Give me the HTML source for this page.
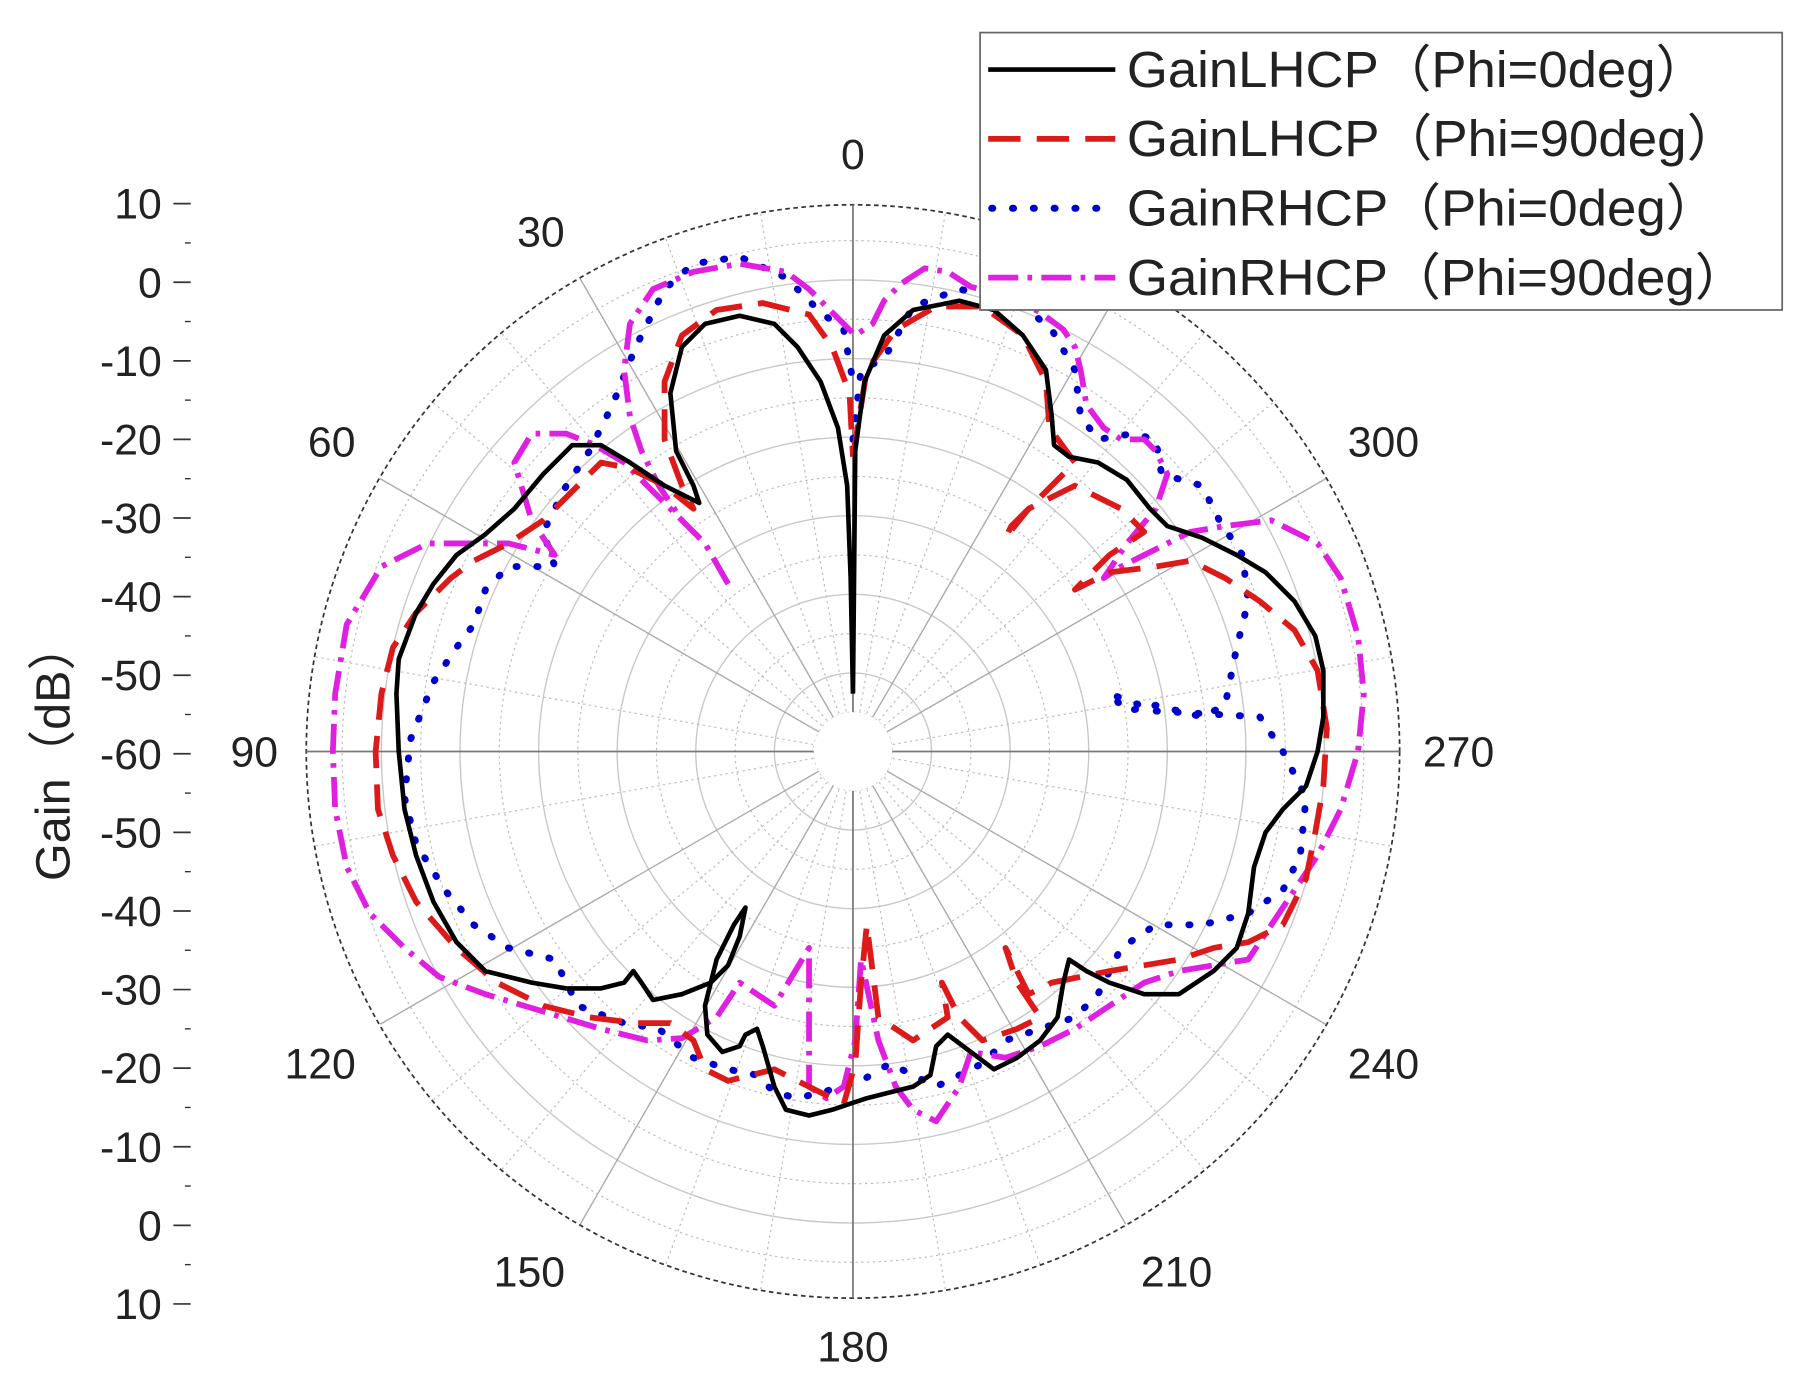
<!DOCTYPE html>
<html><head><meta charset="utf-8"><style>
html,body{margin:0;padding:0;background:#fff;}
svg{display:block;}
text{font-family:"Liberation Sans","Noto Sans CJK SC",sans-serif;fill:#222;}
</style></head><body>
<svg width="1803" height="1392" viewBox="0 0 1560 1204" xmlns="http://www.w3.org/2000/svg">
<g fill="none">
<g stroke="#bbb" stroke-width="1" stroke-dasharray="2,3">
<circle cx="738" cy="650" r="34"/><circle cx="738" cy="650" r="102"/><circle cx="738" cy="650" r="170"/><circle cx="738" cy="650" r="238"/><circle cx="738" cy="650" r="306"/><circle cx="738" cy="650" r="374"/><circle cx="738" cy="650" r="442"/>
</g>
<g stroke="#c8c8c8" stroke-width="1.2">
<circle cx="738" cy="650" r="68"/><circle cx="738" cy="650" r="136"/><circle cx="738" cy="650" r="204"/><circle cx="738" cy="650" r="272"/><circle cx="738" cy="650" r="340"/><circle cx="738" cy="650" r="408"/>
</g>
<circle cx="738" cy="650" r="473" stroke="#333" stroke-width="1.5" stroke-dasharray="4,3"/>
</g>
<g stroke="#bbb" stroke-width="1" stroke-dasharray="2,3">
<line x1="738" y1="650" x2="818" y2="184"/><line x1="738" y1="650" x2="900" y2="206"/><line x1="738" y1="650" x2="1042" y2="288"/><line x1="738" y1="650" x2="1104" y2="346"/><line x1="738" y1="650" x2="1204" y2="568"/><line x1="738" y1="650" x2="1204" y2="732"/><line x1="738" y1="650" x2="1104" y2="954"/><line x1="738" y1="650" x2="1042" y2="1012"/><line x1="738" y1="650" x2="900" y2="1094"/><line x1="738" y1="650" x2="818" y2="1116"/>
<line x1="738" y1="650" x2="658" y2="184"/><line x1="738" y1="650" x2="576" y2="206"/><line x1="738" y1="650" x2="434" y2="288"/><line x1="738" y1="650" x2="372" y2="346"/><line x1="738" y1="650" x2="272" y2="568"/><line x1="738" y1="650" x2="272" y2="732"/><line x1="738" y1="650" x2="372" y2="954"/><line x1="738" y1="650" x2="434" y2="1012"/><line x1="738" y1="650" x2="576" y2="1094"/><line x1="738" y1="650" x2="658" y2="1116"/>
</g>
<g stroke="#aaa" stroke-width="1.2">
<line x1="738" y1="650" x2="502" y2="241"/><line x1="738" y1="650" x2="329" y2="414"/><line x1="738" y1="650" x2="329" y2="886"/><line x1="738" y1="650" x2="502" y2="1059"/>
<line x1="738" y1="650" x2="974" y2="241"/><line x1="738" y1="650" x2="1147" y2="414"/><line x1="738" y1="650" x2="1147" y2="886"/><line x1="738" y1="650" x2="974" y2="1059"/>
</g>
<g stroke="#777" stroke-width="1.5">
<line x1="738" y1="177" x2="738" y2="1123"/><line x1="265" y1="650" x2="1211" y2="650"/>
</g>
<circle cx="738" cy="650" r="34" fill="#fff"/>

<g stroke="#333" stroke-width="1.5">
<line x1="150" y1="176" x2="165" y2="176"/><line x1="150" y1="244" x2="165" y2="244"/><line x1="150" y1="312" x2="165" y2="312"/><line x1="150" y1="380" x2="165" y2="380"/><line x1="150" y1="448" x2="165" y2="448"/><line x1="150" y1="516" x2="165" y2="516"/><line x1="150" y1="584" x2="165" y2="584"/><line x1="150" y1="652" x2="165" y2="652"/><line x1="150" y1="720" x2="165" y2="720"/><line x1="150" y1="788" x2="165" y2="788"/><line x1="150" y1="856" x2="165" y2="856"/><line x1="150" y1="924" x2="165" y2="924"/><line x1="150" y1="992" x2="165" y2="992"/><line x1="150" y1="1060" x2="165" y2="1060"/><line x1="150" y1="1128" x2="165" y2="1128"/>
</g>
<g stroke="#333" stroke-width="1.2">
<line x1="160" y1="210" x2="165" y2="210"/><line x1="160" y1="278" x2="165" y2="278"/><line x1="160" y1="346" x2="165" y2="346"/><line x1="160" y1="414" x2="165" y2="414"/><line x1="160" y1="482" x2="165" y2="482"/><line x1="160" y1="550" x2="165" y2="550"/><line x1="160" y1="618" x2="165" y2="618"/><line x1="160" y1="686" x2="165" y2="686"/><line x1="160" y1="754" x2="165" y2="754"/><line x1="160" y1="822" x2="165" y2="822"/><line x1="160" y1="890" x2="165" y2="890"/><line x1="160" y1="958" x2="165" y2="958"/><line x1="160" y1="1026" x2="165" y2="1026"/><line x1="160" y1="1094" x2="165" y2="1094"/>
</g>
<g font-size="37" text-anchor="end">
<text x="140" y="189">10</text><text x="140" y="257">0</text><text x="140" y="325">-10</text><text x="140" y="393">-20</text><text x="140" y="461">-30</text><text x="140" y="529">-40</text><text x="140" y="597">-50</text><text x="140" y="665">-60</text><text x="140" y="733">-50</text><text x="140" y="801">-40</text><text x="140" y="869">-30</text><text x="140" y="937">-20</text><text x="140" y="1005">-10</text><text x="140" y="1073">0</text><text x="140" y="1141">10</text>
</g>
<text x="0" y="0" font-size="42" text-anchor="middle" transform="translate(60,650) rotate(-90)">Gain（dB）</text>
<g font-size="37" text-anchor="middle">
<text x="738" y="146">0</text><text x="468" y="213">30</text><text x="287" y="395">60</text><text x="220" y="663">90</text><text x="277" y="933">120</text><text x="458" y="1113">150</text><text x="738" y="1178">180</text><text x="1018" y="1113">210</text><text x="1197" y="933">240</text><text x="1262" y="663">270</text><text x="1197" y="395">300</text>
</g>

<g fill="none" stroke-linejoin="round">
<polyline stroke="#0000cc" stroke-width="6" stroke-dasharray="1,17" stroke-linecap="round" points="738,380 745,320 765,310 790,265 830,250 880,260 910,285 930,320 935,360 950,380 980,375 1000,380 1005,410 1040,420 1055,450 1075,480 1080,520 1070,560 1060,610 1040,620 1000,610 975,615 960,600 1000,615 1090,620 1110,650 1130,690 1125,740 1110,770 1080,790 1040,800 1000,800 970,820 950,860 930,880 900,890 870,900 850,920 830,930 810,940 790,930 770,920 745,935 730,940 710,945 690,950 670,945 655,930 630,925 600,915 570,890 540,885 500,870 480,830 440,820 410,800 385,770 360,730 350,690 355,640 375,590 395,560 410,540 420,510 440,490 480,490 470,460 490,420 510,390 530,350 550,300 575,250 600,228 640,222 680,240 710,270 730,285 738,330"/>
<polyline stroke="#e020e0" stroke-width="5" stroke-dasharray="26,8,4,8" points="630,505 610,470 590,450 560,420 540,400 515,385 490,375 460,375 445,400 460,450 480,480 440,470 410,470 370,470 330,490 300,540 290,600 288,650 290,700 300,750 320,790 350,820 380,845 420,860 470,875 520,890 560,900 590,898 620,880 640,850 670,870 700,820 700,900 700,940 715,950 730,940 740,900 745,830 760,900 775,940 790,960 810,970 830,940 840,910 870,915 900,905 930,890 960,870 990,850 1020,840 1050,835 1080,830 1100,800 1120,770 1140,740 1160,700 1175,650 1180,600 1175,550 1160,500 1140,470 1100,450 1060,455 1030,460 1010,470 990,480 970,490 955,500 975,470 1000,440 1010,410 1000,390 990,380 970,380 955,370 940,350 935,320 930,300 920,285 900,270 870,255 840,248 820,235 800,232 780,245 765,260 755,280 740,290 735,285 720,270 700,250 680,235 640,228 600,235 565,250 545,280 540,320 545,360 555,390 570,420 590,450"/>
<polyline stroke="#dd1a1a" stroke-width="5" stroke-dasharray="28,14" points="738,395 750,320 775,285 810,265 850,265 885,290 905,330 908,370 930,400 900,430 875,455 870,465 890,440 930,420 970,440 990,460 960,480 930,510 960,495 1000,490 1030,485 1060,500 1090,520 1120,545 1140,580 1148,630 1145,680 1138,720 1130,760 1110,800 1080,815 1050,820 1020,830 990,835 960,840 935,845 910,850 890,860 870,820 880,850 900,880 880,890 850,900 830,880 815,850 820,880 790,900 760,880 750,800 745,850 740,920 730,955 710,945 690,935 670,925 650,930 630,935 610,925 600,900 580,885 550,885 510,880 470,870 430,850 395,820 360,780 340,740 327,700 325,650 330,600 340,560 360,530 390,500 410,485 440,470 470,450 500,420 520,400 545,405 575,420 600,440 590,420 575,380 575,330 590,290 620,268 660,262 700,272 720,300 735,340 738,395"/>
<polyline stroke="#000" stroke-width="4" points="738,600 740,390 748,330 765,290 790,268 830,260 860,268 885,290 905,320 910,360 912,385 925,395 950,400 975,415 995,440 1010,455 1040,465 1070,480 1095,495 1120,520 1138,550 1145,580 1145,620 1140,650 1130,680 1110,700 1095,720 1085,750 1080,790 1070,820 1050,840 1020,860 990,860 960,850 940,840 925,830 920,850 915,880 900,900 880,915 860,925 840,910 820,895 810,905 805,930 790,940 770,945 750,950 735,955 720,960 700,965 680,960 670,940 660,905 655,890 645,895 640,905 625,910 612,895 610,870 620,830 635,800 645,785 640,810 630,835 615,850 590,860 565,865 555,850 548,840 540,850 520,855 490,855 460,850 420,840 395,815 375,780 360,740 350,700 345,650 343,600 345,570 360,530 375,505 395,480 420,462 445,440 470,410 495,385 520,385 545,400 575,420 595,430 605,435 600,420 585,390 580,340 590,300 610,280 640,273 670,280 690,300 710,330 725,370 733,420 736,500 738,600"/>
</g>

<rect x="848" y="28" width="694" height="240" fill="#fff" stroke="#666" stroke-width="1.5"/>
<line x1="855" y1="60" x2="965" y2="60" stroke="#000" stroke-width="4"/>
<line x1="855" y1="120" x2="965" y2="120" stroke="#dd1a1a" stroke-width="5" stroke-dasharray="28,14"/>
<line x1="858" y1="180" x2="965" y2="180" stroke="#0000cc" stroke-width="6" stroke-dasharray="1,17" stroke-linecap="round"/>
<line x1="855" y1="240" x2="965" y2="240" stroke="#e020e0" stroke-width="5" stroke-dasharray="26,8,4,8"/>
<g font-size="44">
<text x="975" y="75" textLength="503" lengthAdjust="spacingAndGlyphs">GainLHCP（Phi=0deg）</text>
<text x="975" y="135" textLength="530" lengthAdjust="spacingAndGlyphs">GainLHCP（Phi=90deg）</text>
<text x="975" y="195" textLength="512" lengthAdjust="spacingAndGlyphs">GainRHCP（Phi=0deg）</text>
<text x="975" y="255" textLength="537" lengthAdjust="spacingAndGlyphs">GainRHCP（Phi=90deg）</text>
</g>
</svg>
</body></html>
